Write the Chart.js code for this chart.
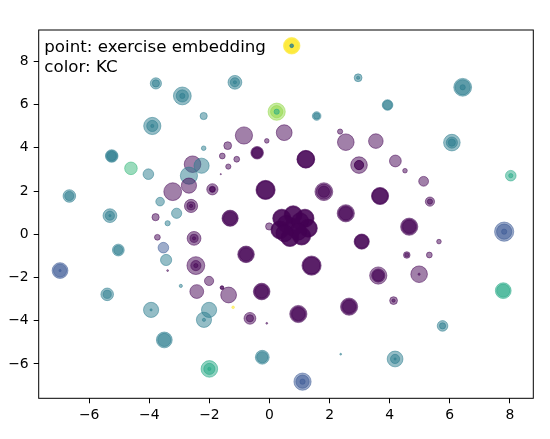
<!DOCTYPE html>
<html lang="en">
  <head>
    <meta charset="utf-8" />
    <title>exercise embedding</title>
    <style>
      * {
        margin: 0;
        padding: 0;
      }
      body {
        background: white;
      }
    </style>
  </head>
  <body>
    <canvas id="myChart" width="550" height="439"></canvas>

    <script src="https://cdn.jsdelivr.net/npm/chart.js@4.4.0/dist/chart.umd.min.js"></script>

    <script>
      // data block
      const xTicks = [-6, -4, -2, 0, 2, 4, 6, 8];
      const yTicks = [-6, -4, -2, 0, 2, 4, 6, 8];

      const markerX = [
        -3.78, -1.15, -2.9, -2.19, -3.9, 0.24, 0.24, -5.25, -4.61, -4.03,
        -6.66, -2.56, -2.26, -2.68, -2.68, -2.19, -0.85, -1.39, -0.41, -0.09,
        -1.57, -1.09, -1.37, -1.62, -3.22, -1.9, -2.61, -3.64, -3.09, -0.13,
        0.74, 0.74, 2.95, 6.43, 3.93, 1.57, 6.07, 8.03, 0.49, 2.35,
        2.54, 3.54, 1.21, 2.98, 4.19, 4.51, 5.13, 5.34, 3.68, 1.81,
        2.54, 4.65, 7.81, 5.64, 3.07, 4.57, 5.32, 1.4, 3.62, 4.98,
        7.78, 4.13, 2.65, 0.96, 5.76, 2.37, 4.18, 1.1, 0.41, 0.79,
        1.18, 1.29, 1.07, 0.68, 0.35, 0.79, -0.01, -5.31, -3.79, -3.39,
        -1.31, -3.73, -2.51, -3.53, -5.03, -0.78, -3.44, -6.97, -2.45, -3.39,
        -2.01, -5.4, -2.95, -2.42, -1.58, -1.36, -0.26, -1.21, -3.94, -2.01,
        -2.18, -0.65, -0.09, -3.5, -0.24, -2.0, 0.55, 1.02, 0.95, 0.5,
      ];
      const markerY = [
        6.98, 7.03, 6.4, 5.47, 5.01, 5.67, 5.67, 3.62, 3.05, 2.78,
        1.77, 3.24, 3.17, 2.71, 2.25, 3.98, 4.57, 4.1, 3.77, 4.32,
        3.62, 3.47, 3.13, 2.78, 1.97, 2.08, 1.31, 1.51, 0.97, 2.05,
        8.72, 8.72, 7.24, 6.8, 5.98, 5.47, 4.24, 2.71, 4.7, 4.75,
        4.26, 4.31, 3.47, 3.2, 3.39, 2.94, 2.45, 1.51, 1.77, 1.97,
        0.97, 0.35, 0.12, -0.34, -0.34, -0.96, -0.96, -1.45, -1.91, -1.85,
        -2.61, -3.07, -3.35, -3.69, -4.24, -5.55, -5.77, -6.82, 0.74, 0.9,
        0.74, 0.28, -0.08, -0.15, 0.2, 0.32, 0.36, 0.86, 0.79, 0.51,
        0.74, -0.14, -0.19, -0.62, -0.73, -0.93, -1.19, -1.68, -1.45, -1.68,
        -2.16, -2.78, -2.39, -2.65, -2.47, -2.81, -2.65, -3.38, -3.5, -3.5,
        -3.96, -3.89, -4.12, -4.89, -5.69, -6.23, 0.48, 0.6, 0.12, 0.05,
      ];
      // knowledge component of each marker
      const markerKC = [
        2, 2, 2, 2, 2, 5, 3, 2, 4, 2,
        2, 0, 2, 2, 0, 2, 0, 0, 0, 0,
        0, 0, 0, 0, 0, 0, 0, 2, 2, 0,
        6, 2, 2, 2, 2, 2, 2, 3, 0, 0,
        0, 0, 0, 0, 0, 0, 0, 0, 0, 0,
        0, 0, 1, 0, 0, 0, 0, 0, 0, 0,
        3, 0, 0, 0, 2, 2, 2, 1, 0, 0,
        0, 0, 0, 0, 0, 0, 0, 2, 0, 2,
        0, 0, 0, 1, 2, 0, 2, 1, 0, 0,
        0, 2, 2, 0, 0, 0, 0, 6, 2, 2,
        2, 0, 0, 2, 2, 3, 0, 0, 0, 0,
      ];
      // overlapping point sizes drawn at each marker position
      const markerSizes = [
        [6, 4], [7.3, 5, 2], [9.3, 6.5, 3], [4], [9, 6, 2], [9, 6.5], [3], [6.7, 6, 5], [6.7], [5.7],
        [6.7, 5], [8.7], [8], [9], [8], [2.7], [9], [4.3], [6.7, 6, 5.5], [2.7],
        [3.3], [3.3], [3], [1], [9.3], [6, 3.5, 3], [7, 4.5, 2], [4.7], [5.5], [10, 9.5, 9],
        [8.7, 8, 7], [2.3, 2], [4.3, 2], [9.3, 8, 3], [5.7, 5], [4.7, 3.5], [8.7, 6, 4], [5.7, 2.5], [8.3], [3],
        [8.7], [7.7], [9.3, 9, 8.5], [8.7, 5, 5], [6.3], [2.7], [5.3], [5, 3], [9, 8.5, 8], [9.3, 8, 6],
        [9, 8, 7], [9, 8, 7], [10, 8, 3], [2.7], [8, 7.5, 7], [3.7, 2.5], [3.3], [10, 9, 9], [9, 7, 6], [8.7, 1.5],
        [8.3, 7], [4.3, 2], [9, 8, 7], [9, 8, 7], [5.7, 3.5], [1.3], [8.3, 5, 1.5], [9, 7, 3], [9.5, 9, 8.5], [9.5, 9, 8.5],
        [9.5, 9, 8.5], [9.5, 9, 8.5], [9.5, 9, 8.5], [9.5, 9, 8.5], [9.5, 9, 8.5], [9.5, 9, 8.5], [4], [7.3, 5, 1.5], [4], [3],
        [8.5, 8, 7], [3.3], [7.3, 4.5, 2], [5.7], [6.3, 5], [8.7, 8, 7], [6], [8.3, 7, 1.5], [9.3, 5.5, 2.5], [1.3],
        [5], [6.7, 4.5], [2], [7.3], [2.3, 2], [8.3], [8.7, 8, 7], [1.7], [8, 1.5], [8],
        [8, 2], [6.3, 4], [1.3], [8.3, 7], [7.3, 6], [8.7, 6, 2], [9, 8.5], [9, 8.5], [9, 8.5], [9, 8.5],
      ];

      // viridis-like colours per KC, drawn at alpha 0.5
      const kcColors = [
        "rgba(68, 1, 84, 0.5)",
        "rgba(59, 90, 150, 0.5)",
        "rgba(42, 124, 142, 0.5)",
        "rgba(34, 168, 132, 0.5)",
        "rgba(53, 183, 121, 0.5)",
        "rgba(143, 215, 68, 0.5)",
        "rgba(253, 231, 37, 0.5)",
      ];

      const points = [];
      const colors = [];
      markerX.forEach((x, i) => {
        markerSizes[i].forEach((r) => {
          points.push({ x: x, y: markerY[i], r: r - 0.4 });
          colors.push(kcColors[markerKC[i]]);
        });
      });

      const minusLabel = (v) => String(v).replace("-", "\u2212");

      // frame + caption text
      const frameAndText = {
        id: "frameAndText",
        afterDraw(chart) {
          const { ctx, chartArea } = chart;
          ctx.save();
          ctx.strokeStyle = "#000";
          ctx.lineWidth = 1;
          ctx.strokeRect(
            chartArea.left,
            chartArea.top,
            chartArea.right - chartArea.left,
            chartArea.bottom - chartArea.top
          );
          ctx.fillStyle = "#000";
          ctx.font = '16.67px "DejaVu Sans"';
          ctx.textAlign = "left";
          ctx.textBaseline = "alphabetic";
          ctx.fillText("point: exercise embedding", chartArea.left + 5.6, chartArea.top + 21.7);
          ctx.fillText("color: KC", chartArea.left + 5.6, chartArea.top + 41.7);
          ctx.restore();
        },
      };

      const tickFont = { family: "DejaVu Sans", size: 13.9 };

      // config block
      const config = {
        type: "bubble",
        data: {
          datasets: [
            {
              data: points,
              backgroundColor: colors,
              borderColor: colors,
              borderWidth: 1,
              hoverRadius: 0,
            },
          ],
        },
        options: {
          responsive: false,
          animation: false,
          devicePixelRatio: 1,
          layout: {
            padding: { left: 0, top: 30, right: 16.7, bottom: 0 },
          },
          scales: {
            x: {
              type: "linear",
              min: -7.68,
              max: 8.78,
              border: { display: false },
              grid: {
                drawOnChartArea: false,
                drawTicks: true,
                tickLength: 5,
                color: "#000",
              },
              ticks: {
                includeBounds: false,
                color: "#000",
                font: tickFont,
                padding: 4,
                maxRotation: 0,
                callback: minusLabel,
              },
              afterBuildTicks: (scale) => {
                scale.ticks = xTicks.map((v) => ({ value: v }));
              },
              afterFit: (scale) => {
                scale.height = 40.7;
              },
            },
            y: {
              type: "linear",
              min: -7.59,
              max: 9.45,
              border: { display: false },
              grid: {
                drawOnChartArea: false,
                drawTicks: true,
                tickLength: 5,
                color: "#000",
              },
              ticks: {
                includeBounds: false,
                color: "#000",
                font: tickFont,
                padding: 5,
                callback: minusLabel,
              },
              afterBuildTicks: (scale) => {
                scale.ticks = yTicks.map((v) => ({ value: v }));
              },
              afterFit: (scale) => {
                scale.width = 38.7;
              },
            },
          },
          plugins: {
            legend: { display: false },
            tooltip: { enabled: false },
          },
        },
        plugins: [frameAndText],
      };

      // init render block
      const myChart = new Chart(document.getElementById("myChart"), config);
    </script>
  </body>
</html>
